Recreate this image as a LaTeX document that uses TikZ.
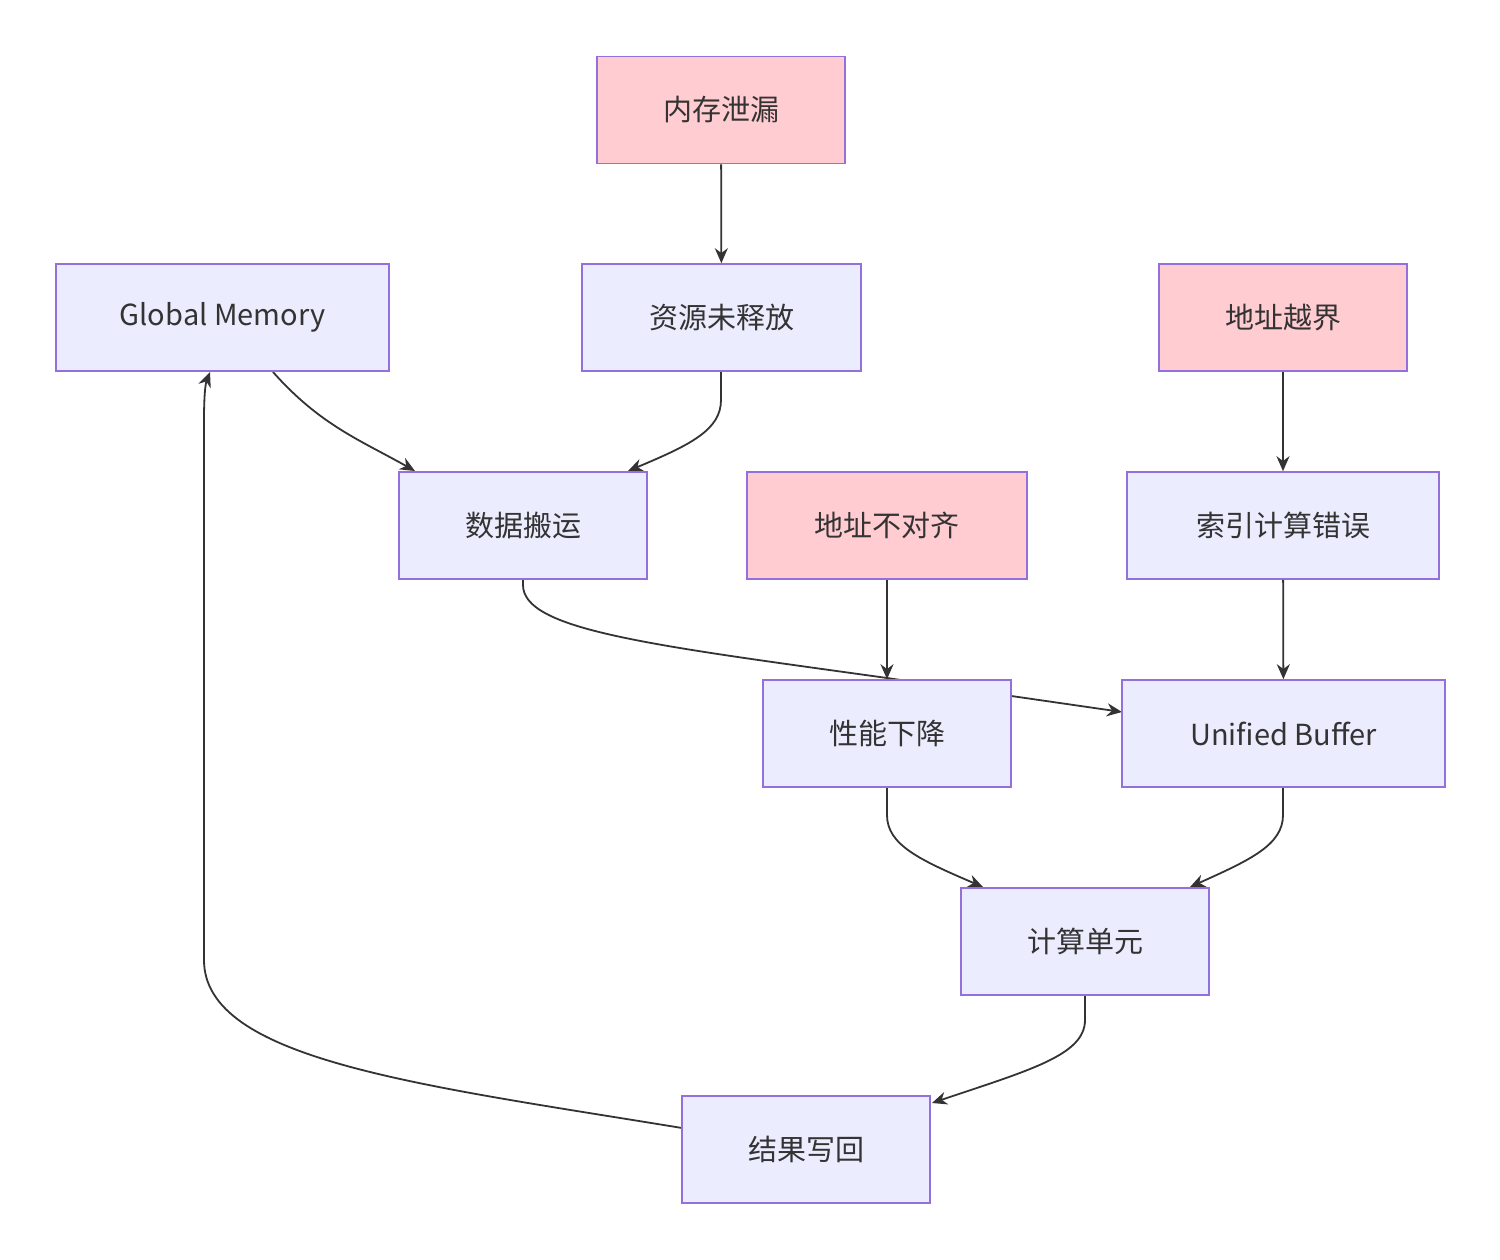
\documentclass[tikz,border=0pt]{standalone}
\usepackage{fontspec}
\setmainfont{Noto Sans CJK SC}
\usetikzlibrary{arrows.meta}
\definecolor{lav}{HTML}{ECECFF}
\definecolor{pinkf}{HTML}{FFCCD2}
\definecolor{bord}{HTML}{9370DB}
\definecolor{ln}{HTML}{333333}
\begin{document}
\begin{tikzpicture}[x=1pt,y=-1pt,
  box/.style={draw=bord,line width=1.6pt,fill=lav,minimum height=107pt,inner sep=0pt,text=ln,font=\fontsize{29}{34}\selectfont},
  err/.style={box,fill=pinkf},
  edge/.style={draw=ln,line width=1.8pt,-{Stealth[length=15pt,width=13pt]}}]
\useasboundingbox (0,0) rectangle (1500,1260);
\fill[white] (0,0) rectangle (1500,1260);
% coordinates for edges
\coordinate (ga) at (273,372); \coordinate (gb) at (415,471);
\coordinate (ra) at (721,372); \coordinate (rb) at (628,471);
\coordinate (da) at (523,580); \coordinate (dm) at (887,678); \coordinate (db) at (1122,712);
\coordinate (pa) at (887,788); \coordinate (pb) at (983,887);
\coordinate (ua) at (1283,788); \coordinate (ub) at (1190,887);
\coordinate (ca) at (1085,996); \coordinate (cb) at (932,1103);
\coordinate (wa) at (682,1128); \coordinate (wb) at (210,372);
\draw[edge] (ga) .. controls (320,425) and (360,440) .. (gb);
\draw[edge] (ra) -- (721,400) .. controls (721,430) and (690,445) .. (rb);
\draw[edge] (da) -- (523,585) .. controls (523,630) and (650,645) .. (dm) -- (db);
\draw[edge] (pa) -- (887,815) .. controls (887,845) and (920,860) .. (pb);
\draw[edge] (ua) -- (1283,815) .. controls (1283,845) and (1250,860) .. (ub);
\draw[edge] (ca) -- (1085,1020) .. controls (1085,1055) and (1030,1070) .. (cb);
\draw[edge] (wa) .. controls (420,1085) and (204,1060) .. (204,960) -- (204,420) .. controls (204,400) and (205,385) .. (wb);
% nodes
\node[err,minimum width=248pt] (leak) at (721,110) {内存泄漏};
\node[box,minimum width=333pt] (gm) at (222.5,317.5) {Global Memory};
\node[box,minimum width=279pt] (res) at (721.5,317.5) {资源未释放};
\node[err,minimum width=248pt] (oob) at (1283,317.5) {地址越界};
\node[box,minimum width=248pt] (move) at (523,525.5) {数据搬运};
\node[err,minimum width=280pt] (align) at (887,525.5) {地址不对齐};
\node[box,minimum width=312pt] (idx) at (1283,525.5) {索引计算错误};
\node[box,minimum width=248pt] (perf) at (887,733.5) {性能下降};
\node[box,minimum width=323pt] (ub) at (1283.5,733.5) {Unified Buffer};
\node[box,minimum width=248pt] (cu) at (1085,941.5) {计算单元};
\node[box,minimum width=248pt] (wr) at (806,1149.5) {结果写回};
\draw[edge] (leak) -- (res);
\draw[edge] (oob) -- (idx);
\draw[edge] (align) -- (perf);
\draw[edge] (idx) -- (ub);
\end{tikzpicture}
\end{document}
